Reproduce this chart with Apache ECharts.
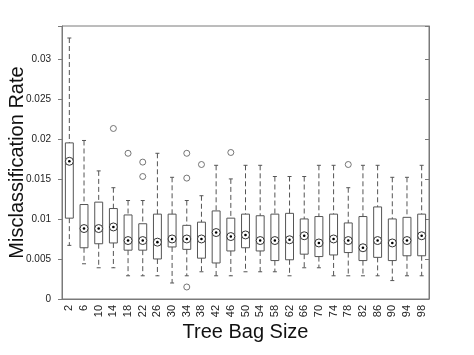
<!DOCTYPE html>
<html>
<head>
<meta charset="utf-8">
<script src="https://cdn.jsdelivr.net/npm/echarts@6/dist/echarts.min.js"></script>
<style>
  html, body { margin: 0; padding: 0; background: #fff; }
  #chart { width: 474px; height: 355px; }
</style>
</head>
<body>
<div id="chart"></div>
<script>
var categories = ['2', '6', '10', '14', '18', '22', '26', '30', '34', '38', '42', '46', '50',
    '54', '58', '62', '66', '70', '74', '78', '82', '86', '90', '94', '98'];

var whiskerLow = [0.0067, 0.0044, 0.0039, 0.0039, 0.0029, 0.0029, 0.0029, 0.0020, 0.0029, 0.0034, 0.0029, 0.0029, 0.0034,
    0.0034, 0.0034, 0.0029, 0.0039, 0.0039, 0.0029, 0.0029, 0.0029, 0.0029, 0.0023, 0.0029, 0.0029];
var q1 = [0.0101, 0.0064, 0.0069, 0.0070, 0.0061, 0.0061, 0.0050, 0.0065, 0.0062, 0.0051, 0.0045, 0.0060, 0.0064,
    0.0060, 0.0048, 0.0049, 0.0056, 0.0053, 0.0055, 0.0058, 0.0048, 0.0052, 0.0048, 0.0054, 0.0054];
var median = [0.0172, 0.0088, 0.0088, 0.0090, 0.0073, 0.0073, 0.0071, 0.0075, 0.0075, 0.0075, 0.0083, 0.0078, 0.0080,
    0.0073, 0.0073, 0.0074, 0.0079, 0.0070, 0.0075, 0.0073, 0.0064, 0.0073, 0.0070, 0.0073, 0.0079];
var q3 = [0.0195, 0.0118, 0.0121, 0.0113, 0.0105, 0.0094, 0.0106, 0.0106, 0.0092, 0.0096, 0.0110, 0.0101, 0.0106,
    0.0104, 0.0106, 0.0107, 0.0100, 0.0103, 0.0106, 0.0095, 0.0103, 0.0115, 0.0100, 0.0102, 0.0106];
var whiskerHigh = [0.0326, 0.0198, 0.0160, 0.0139, 0.0123, 0.0123, 0.0182, 0.0152, 0.0123, 0.0129, 0.0167, 0.0150, 0.0167,
    0.0167, 0.0153, 0.0153, 0.0153, 0.0167, 0.0167, 0.0139, 0.0167, 0.0167, 0.0152, 0.0152, 0.0167];

var outlierCats = ['14', '18', '22', '22', '34', '34', '34', '38', '46', '78'];
var outlierValues = [0.0213, 0.0182, 0.0171, 0.0153, 0.0182, 0.0151, 0.0015, 0.0168, 0.0183, 0.0168];

var yTicks = [0, 0.005, 0.01, 0.015, 0.02, 0.025, 0.03];

var chart = echarts.init(document.getElementById('chart'));

var boxData = categories.map(function (c, i) {
    return [i, whiskerLow[i], q1[i], median[i], q3[i], whiskerHigh[i]];
});
var outlierData = outlierCats.map(function (c, i) {
    return [categories.indexOf(c), outlierValues[i]];
});

var lineColor = '#555';
var axisColor = '#7a7a7a';

function renderBox(params, api) {
    var x = api.value(0);
    var lo = api.coord([x, api.value(1)]);
    var b1 = api.coord([x, api.value(2)]);
    var md = api.coord([x, api.value(3)]);
    var b3 = api.coord([x, api.value(4)]);
    var hi = api.coord([x, api.value(5)]);
    var band = api.size([1, 0])[0];
    var halfW = band * 0.27;
    var capW = 2;
    var cx = lo[0];
    var dashed = { stroke: lineColor, lineWidth: 1, lineDash: [5, 3] };
    var solid = { stroke: lineColor, lineWidth: 1 };
    return {
        type: 'group',
        children: [
            { type: 'line', shape: { x1: cx, y1: hi[1], x2: cx, y2: b3[1] }, style: dashed },
            { type: 'line', shape: { x1: cx, y1: b1[1], x2: cx, y2: lo[1] }, style: dashed },
            { type: 'line', shape: { x1: cx - capW, y1: hi[1], x2: cx + capW, y2: hi[1] }, style: solid },
            { type: 'line', shape: { x1: cx - capW, y1: lo[1], x2: cx + capW, y2: lo[1] }, style: solid },
            {
                type: 'rect',
                shape: { x: cx - halfW, y: b3[1], width: halfW * 2, height: b1[1] - b3[1] },
                style: { fill: 'none', stroke: lineColor, lineWidth: 1 }
            },
            { type: 'circle', shape: { cx: cx, cy: md[1], r: 4 }, style: { fill: '#fff', stroke: '#333', lineWidth: 1 } },
            { type: 'circle', shape: { cx: cx, cy: md[1], r: 1.3 }, style: { fill: '#000' } }
        ]
    };
}

var option = {
    animation: false,
    textStyle: { fontFamily: 'Liberation Sans' },
    grid: {
        left: 62,
        top: 26,
        right: 45,
        bottom: 56,
        outerBoundsMode: 'none',
        containLabel: false,
        show: true,
        borderColor: axisColor,
        borderWidth: 1
    },
    xAxis: {
        type: 'category',
        data: categories,
        name: 'Tree Bag Size',
        nameLocation: 'middle',
        nameGap: 23,
        nameMoveOverlap: false,
        nameTextStyle: { fontSize: 20, color: '#111' },
        axisLine: { lineStyle: { color: axisColor } },
        axisTick: { show: false },
        axisLabel: { rotate: 90, fontSize: 11, color: '#222', margin: 6, interval: 0 }
    },
    yAxis: [
        {
            type: 'value',
            min: 0,
            max: 0.0341,
            interval: 0.005,
            name: 'Misclassification Rate',
            nameLocation: 'middle',
            nameGap: 35,
            nameMoveOverlap: false,
            nameTextStyle: { fontSize: 20, color: '#111' },
            splitLine: { show: false },
            axisLine: { show: true, lineStyle: { color: axisColor } },
            axisTick: { show: true, length: 4, lineStyle: { color: axisColor } },
            axisLabel: {
                fontSize: 10,
                color: '#222',
                margin: 11,
                formatter: function (v) {
                    for (var i = 0; i < yTicks.length; i++) {
                        if (Math.abs(v - yTicks[i]) < 1e-9) return String(yTicks[i]);
                    }
                    return '';
                }
            }
        },
        {
            type: 'value',
            position: 'right',
            min: 0,
            max: 0.0341,
            interval: 0.005,
            splitLine: { show: false },
            axisLine: { show: true, lineStyle: { color: axisColor } },
            axisTick: { show: true, inside: true, length: 4, lineStyle: { color: axisColor } },
            axisLabel: { show: false }
        }
    ],
    series: [
        {
            type: 'custom',
            renderItem: renderBox,
            encode: { x: 0, y: [1, 2, 3, 4, 5] },
            data: boxData,
            z: 3
        },
        {
            type: 'scatter',
            data: outlierData,
            symbol: 'circle',
            symbolSize: 6,
            itemStyle: { color: '#fff', borderColor: '#555', borderWidth: 1 },
            z: 4
        }
    ]
};

chart.setOption(option);
</script>
</body>
</html>
